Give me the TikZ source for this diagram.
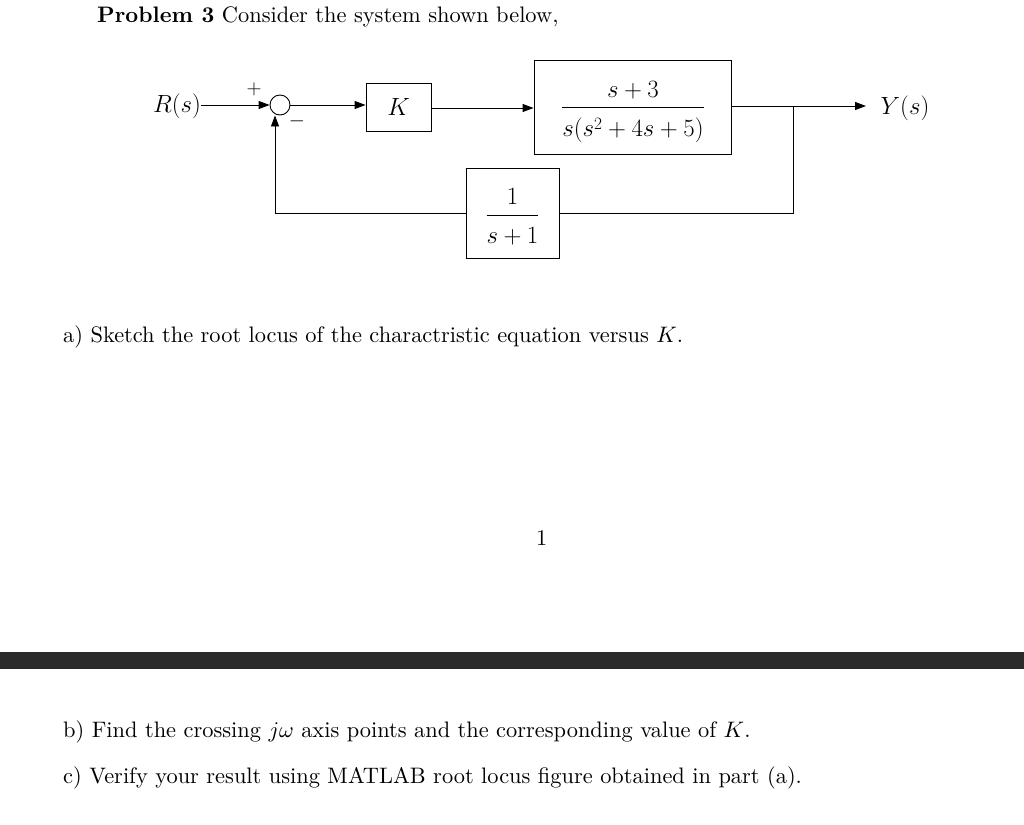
\documentclass[tikz,border=0pt]{standalone}
\usepackage{amsmath}
\usepackage{graphicx}
\usetikzlibrary{arrows.meta}
\newcommand{\bigtxt}[1]{\scalebox{2.24}{\fontsize{10}{12}\selectfont #1}}
\begin{document}
\begin{tikzpicture}[x=1pt,y=-1pt,
  txt/.style={anchor=base west,inner sep=0pt},
  blk/.style={draw,line width=0.9pt,inner sep=0pt},
  sig/.style={line width=0.9pt,-{Triangle[length=11pt,width=8pt]}},
  wire/.style={line width=0.9pt},
  dfont/.style={font=\fontsize{24.5}{29}\selectfont}]
\useasboundingbox (0,0) rectangle (1024,824);
% texts
\node[txt] (title) at (97,23) {\bigtxt{\textbf{Problem 3} Consider the system shown below,}};
\node[txt] (qa) at (63,342) {\bigtxt{a) Sketch the root locus of the charactristic equation versus $K$.}};
\node[txt] (pg) at (536,545) {\bigtxt{1}};
\node[txt] (qb) at (63,737) {\bigtxt{b) Find the crossing $j\omega$ axis points and the corresponding value of $K$.}};
\node[txt] (qc) at (63,783) {\bigtxt{c) Verify your result using MATLAB root locus figure obtained in part (a).}};
% dark bar
\fill[fill=black!83] (0,652) rectangle (1024,669);
% block diagram
\node[dfont,inner sep=0pt] (R) at (177,106) {$R(s)$};
\node[circle,draw,line width=0.9pt,minimum size=20pt,inner sep=0pt] (sum) at (280,105) {};
\node[font=\fontsize{20}{24}\selectfont,inner sep=0pt] (plus) at (254,89) {$+$};
\node[font=\fontsize{20}{24}\selectfont,inner sep=0pt] (minus) at (297,121) {$-$};
\node[blk,minimum width=65pt,minimum height=48pt,dfont] (K) at (398.5,107) {$K$};
\node[blk,minimum width=197pt,minimum height=94pt] (G) at (632.5,107) {};
\node[dfont,inner sep=0pt] (Gtf) at (633,112) {$\dfrac{s+3}{\rule{0pt}{1.05em}s(s^{2}+4s+5)}$};
\node[blk,minimum width=93pt,minimum height=90pt] (H) at (512.5,213) {};
\node[dfont,inner sep=0pt] (Htf) at (512.5,217) {$\dfrac{1}{\rule{0pt}{1.0em}s+1}$};
\node[dfont,inner sep=0pt] (Y) at (905,108) {$Y(s)$};
\coordinate (br) at (793,106);
\coordinate (bl) at (275,213);
\coordinate (Yin) at (866,106);
\draw[sig] (R.east |- sum.west) -- (sum.west);
\draw[sig] (sum.east) -- (sum.east -| K.west);
\draw[sig] ([yshift=-1pt]K.east) -- ([yshift=-1pt]G.west);
\draw[sig] (G.east |- br) -- (Yin);
\draw[wire] (br) |- (H.east);
\draw[wire] (H.west) -- (bl);
\draw[sig] (bl) -- (bl |- sum.south);
\end{tikzpicture}
\end{document}
